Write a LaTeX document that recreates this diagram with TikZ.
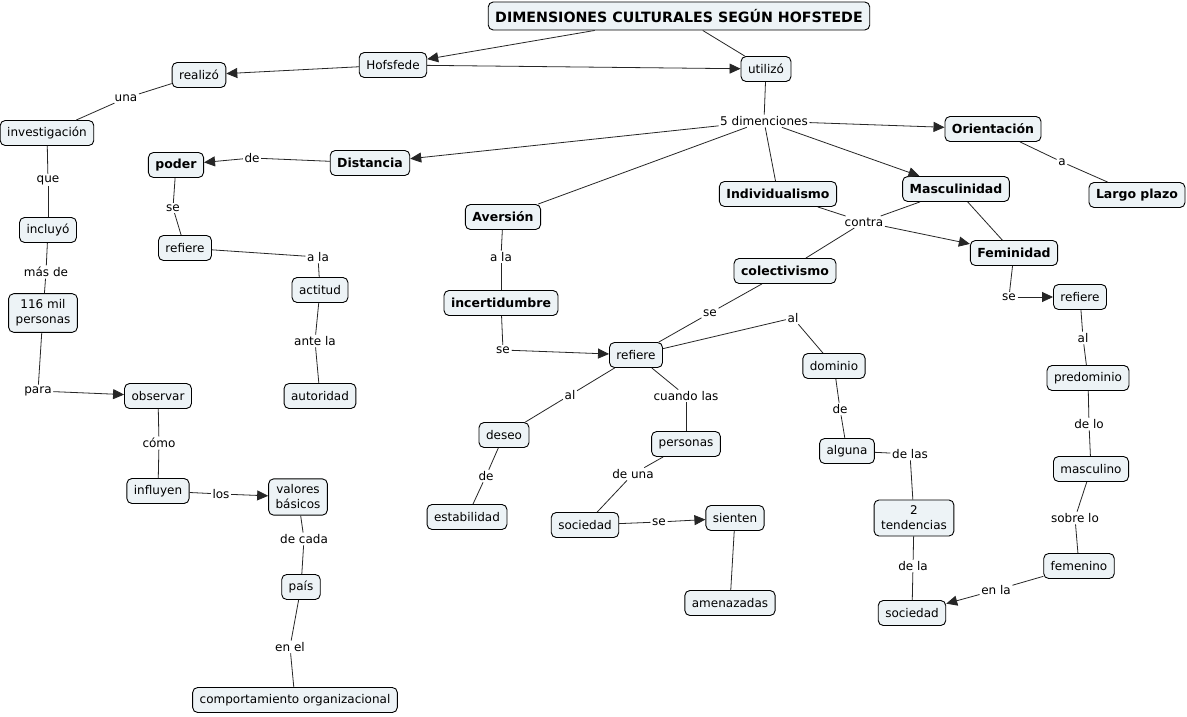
\documentclass[tikz,border=0pt]{standalone}
\usepackage{fontspec}
\setmainfont{DejaVu Sans}
\usetikzlibrary{arrows.meta}
\definecolor{boxfill}{RGB}{237,243,246}
\tikzset{
  box/.style={draw=black, fill=boxfill, rounded corners=5pt, line width=0.9pt,
    inner xsep=7pt, inner ysep=6pt, minimum height=25pt, align=center,
    font=\fontsize{12}{15}\selectfont},
  bbox/.style={box, font=\fontsize{12.5}{15}\selectfont\bfseries},
  tbox/.style={box, minimum height=28pt, font=\fontsize{14.2}{16}\selectfont\bfseries},
  lbl/.style={fill=white, inner sep=1.5pt, font=\fontsize{12}{15}\selectfont},
  conn/.style={line width=0.8pt, draw=black!85},
  arr/.style={conn, -{Triangle[length=11pt,width=10pt]}}
}
\begin{document}
\begin{tikzpicture}[x=1pt,y=-1pt]
\useasboundingbox[fill=white] (0,0) rectangle (1187,717);
% concepts
\node[tbox] (title) at (679,16) {DIMENSIONES CULTURALES SEGÚN HOFSTEDE};
\node[box] (hofs) at (393,65) {Hofsfede};
\node[box] (realizo) at (199,75) {realizó};
\node[box] (util) at (766,69) {utilizó};
\node[box] (inv) at (47,133) {investigación};
\node[box] (incluyo) at (48,230) {incluyó};
\node[box] (mil) at (43,313) {116 mil\\personas};
\node[box] (observar) at (158,396) {observar};
\node[box] (influyen) at (158,491) {influyen};
\node[box] (valores) at (298,497) {valores\\básicos};
\node[box] (pais) at (301,587) {país};
\node[box] (comp) at (295,700) {comportamiento organizacional};
\node[bbox] (poder) at (176,165) {poder};
\node[bbox] (dist) at (370,163) {Distancia};
\node[box] (refL) at (185,248) {refiere};
\node[box] (actitud) at (320,290) {actitud};
\node[box] (autoridad) at (320,396) {autoridad};
\node[bbox] (orient) at (993,129) {Orientación};
\node[bbox] (largo) at (1137,195) {Largo plazo};
\node[bbox] (indiv) at (778,194) {Individualismo};
\node[bbox] (masc) at (956,189) {Masculinidad};
\node[bbox] (aver) at (503,217) {Aversión};
\node[bbox] (incert) at (501,303) {incertidumbre};
\node[bbox] (colect) at (785,271) {colectivismo};
\node[bbox] (fem) at (1014,253) {Feminidad};
\node[box] (refC) at (636,355) {refiere};
\node[box] (dominio) at (834,366) {dominio};
\node[box] (deseo) at (504,435) {deseo};
\node[box] (personas) at (686,444) {personas};
\node[box] (estab) at (467,517) {estabilidad};
\node[box] (socM) at (585,525) {sociedad};
\node[box] (sienten) at (735,518) {sienten};
\node[box] (amen) at (730,603) {amenazadas};
\node[box] (alguna) at (847,451) {alguna};
\node[box] (tend) at (914,518) {2\\tendencias};
\node[box] (socR) at (912,613) {sociedad};
\node[box] (refR) at (1080,297) {refiere};
\node[box] (predom) at (1088,378) {predominio};
\node[box] (mascu) at (1091,469) {masculino};
\node[box] (femen) at (1079,566) {femenino};
% linking phrases
\node[lbl] (l-una) at (126,98) {una};
\node[lbl] (l-que) at (48,180) {que};
\node[lbl] (l-masde) at (46,272) {más de};
\node[lbl] (l-para) at (38,391) {para};
\node[lbl] (l-como) at (159,443) {cómo};
\node[lbl] (l-los) at (221,494) {los};
\node[lbl] (l-decada) at (304,539) {de cada};
\node[lbl] (l-enel) at (290,647) {en el};
\node[lbl] (l-de1) at (252,158) {de};
\node[lbl] (l-se1) at (173,208) {se};
\node[lbl] (l-ala1) at (318,257) {a la};
\node[lbl] (l-antela) at (315,341) {ante la};
\node[lbl] (l-5dim) at (764,121) {5 dimenciones};
\node[lbl] (l-a) at (1062,162) {a};
\node[lbl] (l-ala2) at (501,257) {a la};
\node[lbl] (l-se2) at (503,350) {se};
\node[lbl] (l-contra) at (864,222) {contra};
\node[lbl] (l-se3) at (710,313) {se};
\node[lbl] (l-al1) at (793,318) {al};
\node[lbl] (l-al2) at (570,395) {al};
\node[lbl] (l-cuando) at (686,396) {cuando las};
\node[lbl] (l-de2) at (486,476) {de};
\node[lbl] (l-deuna) at (633,474) {de una};
\node[lbl] (l-se4) at (659,522) {se};
\node[lbl] (l-de3) at (840,409) {de};
\node[lbl] (l-delas) at (910,454) {de las};
\node[lbl] (l-dela) at (913,566) {de la};
\node[lbl] (l-se5) at (1009,297) {se};
\node[lbl] (l-al3) at (1083,338) {al};
\node[lbl] (l-delo) at (1089,424) {de lo};
\node[lbl] (l-sobrelo) at (1075,518) {sobre lo};
\node[lbl] (l-enla) at (996,590) {en la};
% connectors
\draw[arr] (title) -- (hofs);
\draw[conn] (title) -- (util);
\draw[arr] (hofs) -- (realizo);
\draw[arr] (hofs) -- (util);
\draw[conn] (realizo) -- (l-una);
\draw[conn] (l-una) -- (inv);
\draw[conn] (inv) -- (l-que);
\draw[conn] (l-que) -- (incluyo);
\draw[conn] (incluyo) -- (l-masde);
\draw[conn] (l-masde) -- (mil);
\draw[conn] (mil) -- (l-para);
\draw[arr] (l-para) -- (observar);
\draw[conn] (observar) -- (l-como);
\draw[conn] (l-como) -- (influyen);
\draw[conn] (influyen) -- (l-los);
\draw[arr] (l-los) -- (valores);
\draw[conn] (valores) -- (l-decada);
\draw[conn] (l-decada) -- (pais);
\draw[conn] (pais) -- (l-enel);
\draw[conn] (l-enel) -- (comp);
\draw[conn] (util) -- (l-5dim);
\draw[arr] (l-5dim) -- (dist);
\draw[conn] (l-5dim) -- (aver);
\draw[conn] (l-5dim) -- (indiv);
\draw[arr] (l-5dim) -- (masc);
\draw[arr] (l-5dim) -- (orient);
\draw[conn] (dist) -- (l-de1);
\draw[arr] (l-de1) -- (poder);
\draw[conn] (poder) -- (l-se1);
\draw[conn] (l-se1) -- (refL);
\draw[conn] (refL) -- (l-ala1);
\draw[conn] (l-ala1) -- (actitud);
\draw[conn] (actitud) -- (l-antela);
\draw[conn] (l-antela) -- (autoridad);
\draw[conn] (orient) -- (l-a);
\draw[conn] (l-a) -- (largo);
\draw[conn] (aver) -- (l-ala2);
\draw[conn] (l-ala2) -- (incert);
\draw[conn] (incert) -- (l-se2);
\draw[arr] (l-se2) -- (refC);
\draw[conn] (indiv) -- (l-contra);
\draw[conn] (masc) -- (l-contra);
\draw[arr] (l-contra) -- (fem);
\draw[conn] (l-contra) -- (colect);
\draw[conn] (masc) -- (fem);
\draw[conn] (colect) -- (l-se3);
\draw[conn] (l-se3) -- (refC);
\draw[conn] (refC) -- (l-al1);
\draw[conn] (l-al1) -- (dominio);
\draw[conn] (refC) -- (l-al2);
\draw[conn] (l-al2) -- (deseo);
\draw[conn] (refC) -- (l-cuando);
\draw[conn] (l-cuando) -- (personas);
\draw[conn] (deseo) -- (l-de2);
\draw[conn] (l-de2) -- (estab);
\draw[conn] (personas) -- (l-deuna);
\draw[conn] (l-deuna) -- (socM);
\draw[conn] (socM) -- (l-se4);
\draw[arr] (l-se4) -- (sienten);
\draw[conn] (sienten) -- (amen);
\draw[conn] (dominio) -- (l-de3);
\draw[conn] (l-de3) -- (alguna);
\draw[conn] (alguna) -- (l-delas);
\draw[conn] (l-delas) -- (tend);
\draw[conn] (tend) -- (l-dela);
\draw[conn] (l-dela) -- (socR);
\draw[conn] (fem) -- (l-se5);
\draw[arr] (l-se5) -- (refR);
\draw[conn] (refR) -- (l-al3);
\draw[conn] (l-al3) -- (predom);
\draw[conn] (predom) -- (l-delo);
\draw[conn] (l-delo) -- (mascu);
\draw[conn] (mascu) -- (l-sobrelo);
\draw[conn] (l-sobrelo) -- (femen);
\draw[conn] (femen) -- (l-enla);
\draw[arr] (l-enla) -- (socR);
\end{tikzpicture}
\end{document}
